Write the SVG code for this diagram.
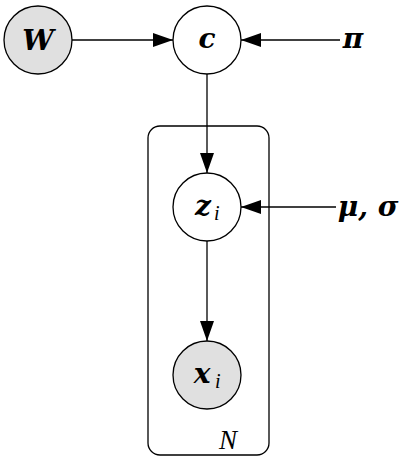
<svg xmlns="http://www.w3.org/2000/svg" width="407" height="460" viewBox="0 0 407 460">
<style>
.node{stroke:#000;stroke-width:1.3}
.obs{fill:#e0e0e0}
.lat{fill:#fff}
.lbl{font-family:"DejaVu Serif","Liberation Serif",serif;font-style:italic;font-weight:bold;font-size:28px;text-anchor:middle}
.sub{font-family:"Liberation Serif","DejaVu Serif",serif;font-style:italic;font-size:20px}
.edge{stroke:#000;stroke-width:1.3;fill:none;marker-end:url(#ah)}
</style>
<defs>
<marker id="ah" viewBox="0 0 20 14" refX="20" refY="7" markerWidth="20" markerHeight="14" markerUnits="userSpaceOnUse" orient="auto">
<path d="M0,0 L20,7 L0,14 Z" fill="#000"/>
</marker>
</defs>
<rect x="148" y="126" width="121" height="329" rx="12" fill="none" stroke="#000" stroke-width="1.3"/>
<g id="connectors">
<line class="edge" x1="72" y1="40" x2="173" y2="40"/>
<line class="edge" x1="340" y1="40" x2="241" y2="40"/>
<line class="edge" x1="207" y1="74" x2="207" y2="173"/>
<line class="edge" x1="336" y1="207" x2="241" y2="207"/>
<line class="edge" x1="207" y1="241" x2="207" y2="341"/>
</g>
<g id="W"><circle class="node obs" cx="38" cy="40" r="34"/><text class="lbl" x="38" y="50">W</text></g>
<g id="c"><circle class="node lat" cx="207" cy="40" r="34"/><text class="lbl" x="207" y="48">c</text></g>
<g id="pi"><text class="lbl" x="353" y="48">π</text></g>
<g id="z"><circle class="node lat" cx="207" cy="207" r="34"/><text class="lbl" x="203" y="215">z</text><text class="sub" x="214" y="220">i</text></g>
<g id="musigma"><text class="lbl" x="368" y="216">μ, σ</text></g>
<g id="x"><circle class="node obs" cx="207" cy="375" r="34"/><text class="lbl" x="202" y="383">x</text><text class="sub" x="215" y="388">i</text></g>
<g id="N"><text x="228" y="449" style="font-family:'Liberation Serif',serif;font-style:italic;font-size:27px;text-anchor:middle">N</text></g>
</svg>
